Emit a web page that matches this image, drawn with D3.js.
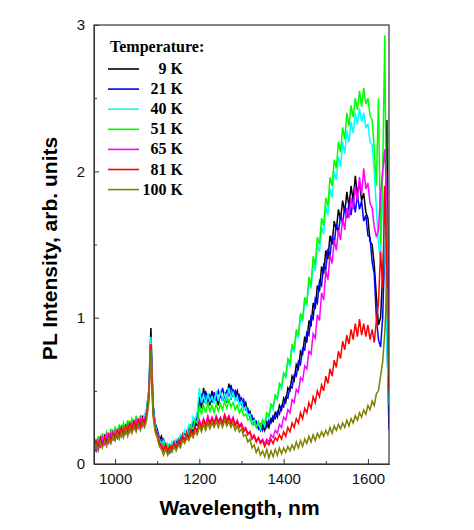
<!DOCTYPE html>
<html>
<head>
<meta charset="utf-8">
<script src="https://cdn.jsdelivr.net/npm/d3@7"></script>
<style>
  body { margin: 0; background: #fff; }
  .axis text { font-family: "Liberation Sans", Arial, sans-serif; font-size: 15px; fill: #111; }
  .axis path, .axis line { stroke: #333; }
</style>
</head>
<body>
<script>
// wavelengths, nm (shared by every spectrum), one row per 50 nm
const wavelengths = [
  950, 955, 960, 965, 970, 975, 980, 985, 990, 995,
  1000, 1005, 1010, 1015, 1020, 1025, 1030, 1035, 1040, 1045,
  1050, 1055, 1060, 1065, 1070, 1075, 1080, 1085, 1090, 1095,
  1100, 1105, 1110, 1115, 1120, 1125, 1130, 1135, 1140, 1145,
  1150, 1155, 1160, 1165, 1170, 1175, 1180, 1185, 1190, 1195,
  1200, 1205, 1210, 1215, 1220, 1225, 1230, 1235, 1240, 1245,
  1250, 1255, 1260, 1265, 1270, 1275, 1280, 1285, 1290, 1295,
  1300, 1305, 1310, 1315, 1320, 1325, 1330, 1335, 1340, 1345,
  1350, 1355, 1360, 1365, 1370, 1375, 1380, 1385, 1390, 1395,
  1400, 1405, 1410, 1415, 1420, 1425, 1430, 1435, 1440, 1445,
  1450, 1455, 1460, 1465, 1470, 1475, 1480, 1485, 1490, 1495,
  1500, 1505, 1510, 1515, 1520, 1525, 1530, 1535, 1540, 1545,
  1550, 1555, 1560, 1565, 1570, 1575, 1580, 1585, 1590, 1595,
  1600, 1605, 1610, 1615, 1620, 1625, 1630, 1635, 1640, 1645,
  1650
];

const temps = ["9 K", "21 K", "40 K", "51 K", "65 K", "81 K", "100 K"];
const colors = ["#000000", "#0000ff", "#00ffff", "#00ff00", "#ff00ff", "#ff0000", "#808000"];

// PL intensity, one array per temperature
const pl9K = [
  0.10, 0.16, 0.12, 0.18, 0.13, 0.19, 0.15, 0.2, 0.16, 0.22,
  0.17, 0.23, 0.19, 0.25, 0.2, 0.27, 0.21, 0.26, 0.23, 0.3,
  0.24, 0.31, 0.25, 0.33, 0.27, 0.38, 0.5, 0.93, 0.42, 0.26,
  0.22, 0.16, 0.19, 0.12, 0.14, 0.08, 0.13, 0.1, 0.15, 0.11,
  0.17, 0.14, 0.2, 0.16, 0.22, 0.19, 0.27, 0.22, 0.3, 0.26,
  0.46, 0.38, 0.52, 0.41, 0.48, 0.4, 0.5, 0.42, 0.47, 0.4,
  0.5, 0.43, 0.49, 0.42, 0.55, 0.44, 0.51, 0.46, 0.5, 0.43,
  0.45, 0.39, 0.42, 0.35, 0.36, 0.3, 0.31, 0.26, 0.28, 0.23,
  0.27, 0.23, 0.29, 0.25, 0.31, 0.29, 0.35, 0.32, 0.4, 0.37,
  0.45, 0.42, 0.52, 0.5, 0.6, 0.57, 0.68, 0.65, 0.77, 0.75,
  0.87, 0.83, 0.98, 0.94, 1.1, 1.06, 1.22, 1.18, 1.35, 1.3,
  1.46, 1.4, 1.56, 1.5, 1.66, 1.6, 1.74, 1.67, 1.8, 1.72,
  1.86, 1.76, 1.9, 1.8, 1.97, 1.84, 1.93, 1.8, 1.85, 1.72,
  1.68, 1.52, 1.5, 1.36, 1.15, 0.95, 1.0, 1.3, 1.6, 2.35,
  0.45
];
const pl21K = [
  0.13, 0.09, 0.16, 0.11, 0.18, 0.14, 0.2, 0.15, 0.21, 0.17,
  0.22, 0.18, 0.25, 0.2, 0.26, 0.22, 0.28, 0.23, 0.29, 0.25,
  0.3, 0.26, 0.32, 0.27, 0.33, 0.36, 0.48, 0.85, 0.4, 0.28,
  0.24, 0.18, 0.15, 0.17, 0.11, 0.13, 0.08, 0.14, 0.12, 0.16,
  0.13, 0.19, 0.17, 0.22, 0.18, 0.25, 0.21, 0.29, 0.25, 0.33,
  0.38, 0.48, 0.42, 0.5, 0.43, 0.47, 0.42, 0.49, 0.44, 0.5,
  0.45, 0.52, 0.46, 0.5, 0.47, 0.54, 0.47, 0.5, 0.44, 0.47,
  0.41, 0.44, 0.37, 0.38, 0.32, 0.33, 0.27, 0.29, 0.24, 0.27,
  0.23, 0.28, 0.25, 0.3, 0.28, 0.33, 0.31, 0.36, 0.34, 0.4,
  0.39, 0.46, 0.45, 0.53, 0.52, 0.61, 0.6, 0.7, 0.68, 0.79,
  0.78, 0.9, 0.88, 1.01, 0.99, 1.13, 1.1, 1.25, 1.22, 1.36,
  1.33, 1.47, 1.42, 1.56, 1.5, 1.64, 1.58, 1.7, 1.64, 1.76,
  1.68, 1.78, 1.7, 1.82, 1.72, 1.84, 1.74, 1.8, 1.66, 1.7,
  1.56, 1.55, 1.38, 1.3, 1.0, 0.85, 0.8, 1.0, 1.5, 0.9,
  0.23
];
const pl40K = [
  0.15, 0.11, 0.18, 0.13, 0.19, 0.15, 0.21, 0.16, 0.22, 0.18,
  0.24, 0.19, 0.26, 0.21, 0.27, 0.22, 0.29, 0.24, 0.3, 0.26,
  0.31, 0.26, 0.33, 0.28, 0.34, 0.37, 0.5, 0.87, 0.38, 0.27,
  0.2, 0.17, 0.13, 0.16, 0.1, 0.14, 0.11, 0.15, 0.12, 0.17,
  0.16, 0.2, 0.18, 0.23, 0.2, 0.27, 0.24, 0.32, 0.3, 0.36,
  0.52, 0.42, 0.47, 0.41, 0.48, 0.43, 0.46, 0.41, 0.5, 0.43,
  0.5, 0.44, 0.48, 0.43, 0.52, 0.45, 0.49, 0.43, 0.46, 0.4,
  0.43, 0.37, 0.39, 0.33, 0.34, 0.28, 0.3, 0.25, 0.28, 0.24,
  0.3, 0.26, 0.34, 0.31, 0.4, 0.37, 0.47, 0.44, 0.54, 0.51,
  0.62, 0.59, 0.7, 0.67, 0.8, 0.76, 0.9, 0.86, 1.01, 0.97,
  1.12, 1.08, 1.25, 1.2, 1.38, 1.32, 1.5, 1.45, 1.62, 1.57,
  1.76, 1.7, 1.88, 1.82, 2.0, 1.94, 2.1, 2.03, 2.2, 2.12,
  2.28, 2.2, 2.34, 2.26, 2.4, 2.32, 2.43, 2.34, 2.4, 2.3,
  2.32, 2.2, 2.18, 2.0, 1.75, 1.5, 1.4, 1.9, 1.5, 0.8,
  0.4
];
const pl51K = [
  0.17, 0.12, 0.19, 0.14, 0.21, 0.16, 0.22, 0.17, 0.24, 0.19,
  0.25, 0.2, 0.27, 0.22, 0.28, 0.23, 0.3, 0.25, 0.31, 0.26,
  0.33, 0.27, 0.32, 0.28, 0.31, 0.35, 0.47, 0.8, 0.37, 0.26,
  0.21, 0.16, 0.15, 0.12, 0.14, 0.11, 0.13, 0.1, 0.14, 0.12,
  0.16, 0.14, 0.19, 0.17, 0.21, 0.2, 0.26, 0.24, 0.3, 0.28,
  0.4, 0.34, 0.4, 0.35, 0.42, 0.36, 0.4, 0.35, 0.41, 0.36,
  0.41, 0.37, 0.43, 0.38, 0.44, 0.39, 0.42, 0.37, 0.4, 0.35,
  0.38, 0.33, 0.34, 0.3, 0.31, 0.27, 0.28, 0.25, 0.29, 0.26,
  0.3, 0.28, 0.35, 0.33, 0.41, 0.39, 0.47, 0.45, 0.55, 0.53,
  0.62, 0.6, 0.72, 0.69, 0.82, 0.78, 0.92, 0.88, 1.03, 0.99,
  1.14, 1.1, 1.28, 1.22, 1.42, 1.36, 1.55, 1.5, 1.68, 1.63,
  1.82, 1.76, 1.96, 1.9, 2.08, 2.02, 2.2, 2.13, 2.3, 2.22,
  2.4, 2.31, 2.45, 2.37, 2.5, 2.42, 2.55, 2.44, 2.57, 2.46,
  2.5, 2.38, 2.35, 2.15, 1.9, 2.5, 1.5, 2.0, 2.93, 1.2,
  0.5
];
const pl65K = [
  0.14, 0.1, 0.16, 0.12, 0.18, 0.14, 0.2, 0.15, 0.21, 0.17,
  0.22, 0.18, 0.24, 0.19, 0.25, 0.21, 0.27, 0.22, 0.28, 0.24,
  0.3, 0.25, 0.31, 0.26, 0.31, 0.34, 0.46, 0.82, 0.36, 0.25,
  0.2, 0.15, 0.13, 0.1, 0.13, 0.09, 0.12, 0.1, 0.14, 0.11,
  0.15, 0.13, 0.18, 0.16, 0.2, 0.18, 0.23, 0.2, 0.25, 0.22,
  0.3, 0.26, 0.31, 0.27, 0.33, 0.28, 0.32, 0.28, 0.33, 0.29,
  0.32, 0.28, 0.34, 0.3, 0.33, 0.29, 0.32, 0.27, 0.3, 0.26,
  0.28, 0.24, 0.25, 0.21, 0.22, 0.18, 0.2, 0.16, 0.18, 0.15,
  0.17, 0.14, 0.17, 0.15, 0.2, 0.18, 0.23, 0.21, 0.27, 0.25,
  0.32, 0.3, 0.37, 0.35, 0.44, 0.42, 0.51, 0.49, 0.59, 0.57,
  0.67, 0.65, 0.77, 0.75, 0.89, 0.86, 1.02, 0.98, 1.17, 1.12,
  1.32, 1.26, 1.43, 1.37, 1.53, 1.46, 1.6, 1.53, 1.68, 1.6,
  1.75, 1.68, 1.82, 1.74, 1.9, 1.8, 1.96, 1.84, 2.02, 1.88,
  1.92, 1.78, 1.75, 1.62, 1.55, 1.6, 1.85, 2.0, 2.15, 1.8,
  0.6
];
const pl81K = [
  0.12, 0.15, 0.11, 0.17, 0.13, 0.18, 0.14, 0.2, 0.16, 0.21,
  0.18, 0.23, 0.19, 0.25, 0.2, 0.26, 0.22, 0.28, 0.23, 0.29,
  0.25, 0.3, 0.26, 0.31, 0.28, 0.33, 0.45, 0.82, 0.35, 0.24,
  0.2, 0.14, 0.12, 0.09, 0.13, 0.08, 0.12, 0.1, 0.14, 0.11,
  0.16, 0.13, 0.19, 0.16, 0.21, 0.18, 0.23, 0.2, 0.25, 0.22,
  0.29, 0.24, 0.3, 0.26, 0.31, 0.27, 0.31, 0.27, 0.32, 0.28,
  0.31, 0.27, 0.33, 0.28, 0.32, 0.27, 0.31, 0.26, 0.29, 0.25,
  0.27, 0.22, 0.24, 0.2, 0.22, 0.17, 0.19, 0.15, 0.18, 0.14,
  0.16, 0.12, 0.15, 0.13, 0.17, 0.14, 0.18, 0.16, 0.2, 0.17,
  0.22, 0.19, 0.25, 0.22, 0.28, 0.25, 0.31, 0.28, 0.35, 0.31,
  0.38, 0.35, 0.42, 0.38, 0.46, 0.42, 0.5, 0.46, 0.54, 0.5,
  0.6, 0.55, 0.65, 0.6, 0.71, 0.66, 0.77, 0.72, 0.84, 0.78,
  0.88, 0.82, 0.92, 0.85, 0.96, 0.87, 0.99, 0.88, 0.96, 0.87,
  0.95, 0.85, 0.92, 0.83, 0.98, 1.1, 1.45, 1.2, 1.9, 1.3,
  0.5
];
const pl100K = [
  0.1, 0.13, 0.09, 0.15, 0.11, 0.16, 0.12, 0.18, 0.14, 0.19,
  0.16, 0.21, 0.17, 0.22, 0.18, 0.24, 0.19, 0.25, 0.21, 0.26,
  0.22, 0.27, 0.23, 0.28, 0.25, 0.3, 0.42, 0.78, 0.33, 0.22,
  0.18, 0.12, 0.1, 0.06, 0.1, 0.06, 0.1, 0.08, 0.12, 0.09,
  0.13, 0.11, 0.16, 0.14, 0.18, 0.16, 0.2, 0.18, 0.22, 0.2,
  0.26, 0.22, 0.27, 0.23, 0.28, 0.24, 0.28, 0.25, 0.29, 0.25,
  0.29, 0.25, 0.3, 0.26, 0.29, 0.25, 0.28, 0.23, 0.26, 0.22,
  0.24, 0.19, 0.2, 0.15, 0.17, 0.11, 0.13, 0.08, 0.11, 0.06,
  0.09, 0.05, 0.1, 0.04, 0.09, 0.05, 0.1, 0.06, 0.11, 0.07,
  0.11, 0.08, 0.12, 0.09, 0.13, 0.1, 0.15, 0.11, 0.16, 0.12,
  0.17, 0.14, 0.19, 0.15, 0.2, 0.16, 0.21, 0.18, 0.22, 0.19,
  0.23, 0.2, 0.25, 0.21, 0.26, 0.23, 0.27, 0.24, 0.28, 0.25,
  0.3, 0.26, 0.31, 0.28, 0.33, 0.3, 0.35, 0.32, 0.37, 0.34,
  0.4, 0.37, 0.43, 0.4, 0.48, 0.5, 0.6, 0.7, 0.9, 1.2,
  0.6
];
const spectra = [pl9K, pl21K, pl40K, pl51K, pl65K, pl81K, pl100K];

const xMajor = [1000, 1200, 1400, 1600];
const xMinor = [1100, 1300, 1500];
const yMajor = [0, 1, 2, 3];
const yMinor = [0.5, 1.5, 2.5];

// layout
const W = 474, H = 530;
const margin = { top: 25, right: 85, bottom: 66, left: 94 };
const width = W - margin.left - margin.right;
const height = H - margin.top - margin.bottom;

const x = d3.scaleLinear().domain([950, 1650]).range([0, width]);
const y = d3.scaleLinear().domain([0, 3]).range([height, 0]);

const svg = d3.select("body").append("svg")
  .attr("width", W).attr("height", H);

const g = svg.append("g")
  .attr("transform", `translate(${margin.left},${margin.top})`);

g.append("clipPath").attr("id", "plotclip")
  .append("rect").attr("width", width).attr("height", height);

// spectra, drawn in legend order so 100 K ends up on top
const line = d3.line()
  .x((d, i) => x(wavelengths[i]))
  .y(d => y(d));

g.append("g").attr("clip-path", "url(#plotclip)")
  .selectAll("path")
  .data(spectra)
  .join("path")
    .attr("fill", "none")
    .attr("stroke", (d, i) => colors[i])
    .attr("stroke-width", 1.5)
    .attr("d", line);

// frame
g.append("rect")
  .attr("width", width).attr("height", height)
  .attr("fill", "none").attr("stroke", "#333").attr("stroke-width", 1.2);

// axes with inward ticks
g.append("g").attr("class", "axis")
  .attr("transform", `translate(0,${height})`)
  .call(d3.axisBottom(x).tickValues(xMajor).tickSizeInner(-5).tickSizeOuter(0).tickPadding(9).tickFormat(d3.format("d")));
g.append("g").attr("class", "axis")
  .attr("transform", `translate(0,${height})`)
  .call(d3.axisBottom(x).tickValues(xMinor).tickSizeInner(-3).tickSizeOuter(0).tickFormat(""));

g.append("g").attr("class", "axis")
  .call(d3.axisLeft(y).tickValues(yMajor).tickSizeInner(-5).tickSizeOuter(0).tickPadding(9).tickFormat(d3.format("d")));
g.append("g").attr("class", "axis")
  .call(d3.axisLeft(y).tickValues(yMinor).tickSizeInner(-3).tickSizeOuter(0).tickFormat(""));

g.selectAll(".axis .domain").attr("stroke", "none");

// axis titles
svg.append("text")
  .attr("x", margin.left + width / 2 - 2)
  .attr("y", 515)
  .attr("text-anchor", "middle")
  .style("font-family", "Liberation Sans, Arial, sans-serif")
  .style("font-weight", "bold")
  .style("font-size", "21px")
  .text("Wavelength, nm");

svg.append("text")
  .attr("transform", `translate(57,${margin.top + height / 2 + 4}) rotate(-90)`)
  .attr("text-anchor", "middle")
  .style("font-family", "Liberation Sans, Arial, sans-serif")
  .style("font-weight", "bold")
  .style("font-size", "21px")
  .text("PL Intensity, arb. units");

// legend
const legend = g.append("g")
  .attr("transform", "translate(14,0)")
  .style("font-family", "Liberation Serif, 'Times New Roman', serif")
  .style("font-weight", "bold")
  .style("font-size", "16px");

legend.append("text")
  .attr("x", 2).attr("y", 27)
  .text("Temperature:");

const rows = legend.selectAll("g.row")
  .data(temps)
  .join("g")
    .attr("class", "row")
    .attr("transform", (d, i) => `translate(0,${44 + i * 20.1})`);

rows.append("line")
  .attr("x1", 0).attr("x2", 31)
  .attr("stroke", (d, i) => colors[i])
  .attr("stroke-width", 1.6);

rows.append("text")
  .attr("x", 75).attr("y", 5)
  .attr("text-anchor", "end")
  .text(d => d);
</script>
</body>
</html>
